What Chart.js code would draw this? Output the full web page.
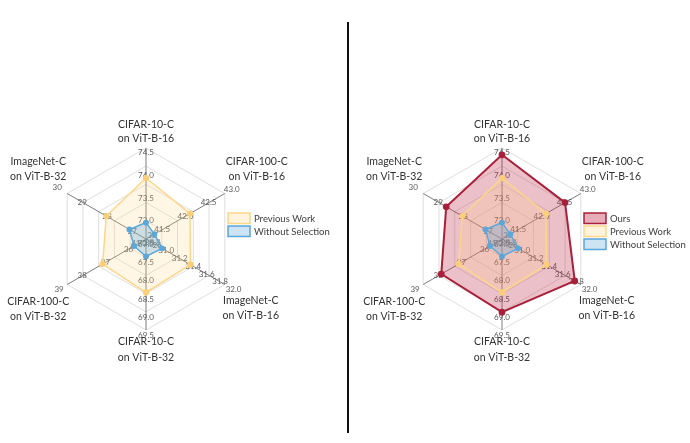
<!DOCTYPE html>
<html>
<head>
<meta charset="utf-8">
<script src="https://cdn.jsdelivr.net/npm/chart.js@4.4.1/dist/chart.umd.min.js"></script>
<style>
  body { margin: 0; background: #fff; }
  #wrap { position: relative; width: 690px; height: 443px; overflow: hidden; }
  #left { position: absolute; left: 0; top: 0; }
  #right { position: absolute; left: 346px; top: 0; }
  #divider { position: absolute; left: 347px; top: 22px; width: 2px; height: 411px; background: #111; }
</style>
</head>
<body>
<div id="wrap">
  <canvas id="left" width="346" height="443"></canvas>
  <div id="divider"></div>
  <canvas id="right" width="344" height="443"></canvas>
</div>
<script>
// axes go clockwise starting at the top
const axisNames = [
  ["CIFAR-10-C", "on ViT-B-16"],
  ["CIFAR-100-C", "on ViT-B-16"],
  ["ImageNet-C", "on ViT-B-16"],
  ["CIFAR-10-C", "on ViT-B-32"],
  ["CIFAR-100-C", "on ViT-B-32"],
  ["ImageNet-C", "on ViT-B-32"]
];
// value at the centre / at the outer ring, one pair per axis
const axisMin = [72.6, 41.15, 30.7, 66.85, 35.25, 26.45];
const axisMax = [74.6, 42.85, 31.87, 69.35, 38.65, 29.6];
const axisTicks = [
  ["72.5", "73.0", "73.5", "74.0", "74.5"],
  ["41.0", "41.5", "42.0", "42.5", "43.0"],
  ["30.8", "31.0", "31.2", "31.4", "31.6", "31.8", "32.0"],
  ["67.0", "67.5", "68.0", "68.5", "69.0", "69.5"],
  ["35", "36", "37", "38", "39"],
  ["26", "27", "28", "29", "30"]
];

const ours = [74.45, 42.51, 31.78, 68.86, 37.87, 28.68];
const previousWork = [73.94, 42.1, 31.36, 68.32, 37.12, 28.04];
const withoutSelection = [72.96, 41.33, 30.94, 67.33, 35.77, 27.11];

// where the axis names sit, relative to the outer vertex: dx, dy line 1, dy line 2
const nameOffsets = [[0, -23, -9], [32, -32, -17], [26, 16, 31], [0, 12, 28], [-29, 17, 32], [-29, -32, -17]];

function norm(values) {
  return values.map((v, i) => (v - axisMin[i]) / (axisMax[i] - axisMin[i]));
}

const axisTextPlugin = {
  id: "axisText",
  beforeDatasetsDraw(chart) {
    const scale = chart.scales.r;
    const ctx = chart.ctx;
    ctx.save();
    ctx.font = "8px Lato";
    ctx.fillStyle = "#5a5a5a";
    ctx.textAlign = "center";
    ctx.textBaseline = "middle";
    axisTicks.forEach((ticks, i) => {
      ticks.forEach(t => {
        let n = (parseFloat(t) - axisMin[i]) / (axisMax[i] - axisMin[i]);
        let p = scale.getPointPositionForValue(i, n);
        ctx.fillText(t, p.x, p.y);
      });
    });
    ctx.restore();
  },
  afterDraw(chart) {
    const scale = chart.scales.r;
    const ctx = chart.ctx;
    ctx.save();
    ctx.font = "10.5px Lato";
    ctx.fillStyle = "#333333";
    ctx.textAlign = "center";
    ctx.textBaseline = "middle";
    axisNames.forEach((lines, i) => {
      let p = scale.getPointPositionForValue(i, 1);
      let o = nameOffsets[i];
      ctx.fillText(lines[0], p.x + o[0], p.y + o[1]);
      ctx.fillText(lines[1], p.x + o[0], p.y + o[2]);
    });

    // legend
    let lx = scale.xCenter + 82;
    let ly = 213;
    ctx.font = "9.5px Lato";
    ctx.textAlign = "left";
    chart.data.datasets.forEach((ds, k) => {
      let y = ly + k * 13;
      ctx.fillStyle = ds.legendFill;
      ctx.fillRect(lx, y, 22, 10.5);
      ctx.strokeStyle = ds.borderColor;
      ctx.lineWidth = 1.5;
      ctx.strokeRect(lx, y, 22, 10.5);
      ctx.fillStyle = "#404040";
      ctx.fillText(ds.label, lx + 26, y + 5.5);
    });
    ctx.restore();
  }
};

function oursSet() {
  return {
    label: "Ours",
    data: norm(ours),
    order: 3,
    borderColor: "#a8203a",
    backgroundColor: "rgba(192, 48, 74, 0.3)",
    legendFill: "rgba(192, 48, 74, 0.4)",
    borderWidth: 2,
    pointRadius: 2.4,
    pointBackgroundColor: "#a8203a",
    pointBorderColor: "#a8203a",
    fill: true
  };
}
function previousSet() {
  return {
    label: "Previous Work",
    data: norm(previousWork),
    order: 2,
    borderColor: "#fdd688",
    backgroundColor: "rgba(253, 214, 136, 0.22)",
    legendFill: "rgba(253, 214, 136, 0.28)",
    borderWidth: 1.5,
    pointRadius: 2.4,
    pointBackgroundColor: "#fbcf7a",
    pointBorderColor: "#fbcf7a",
    fill: true
  };
}
function withoutSet() {
  return {
    label: "Without Selection",
    data: norm(withoutSelection),
    order: 1,
    borderColor: "#5ba7d9",
    backgroundColor: "rgba(91, 167, 217, 0.3)",
    legendFill: "rgba(91, 167, 217, 0.3)",
    borderWidth: 1.5,
    pointRadius: 2.2,
    pointBackgroundColor: "#5ba7d9",
    pointBorderColor: "#5ba7d9",
    fill: true
  };
}

function makeRadar(id, datasets, pad) {
  return new Chart(document.getElementById(id), {
    type: "radar",
    data: {
      labels: axisNames.map(l => l.join(" ")),
      datasets: datasets
    },
    options: {
      responsive: false,
      animation: false,
      layout: { padding: pad },
      plugins: { legend: { display: false }, tooltip: { enabled: false } },
      scales: {
        r: {
          min: 0,
          max: 1,
          ticks: { display: false, stepSize: 0.2 },
          grid: { color: "#dedede", lineWidth: 1 },
          angleLines: { color: "#7c7c7c", lineWidth: 1 },
          pointLabels: { display: false }
        }
      }
    },
    plugins: [axisTextPlugin]
  });
}

makeRadar("left", [previousSet(), withoutSet()], { left: 55, right: 109, top: 148, bottom: 113 });
makeRadar("right", [oursSet(), previousSet(), withoutSet()], { left: 65, right: 97, top: 148, bottom: 113 });
</script>
</body>
</html>
